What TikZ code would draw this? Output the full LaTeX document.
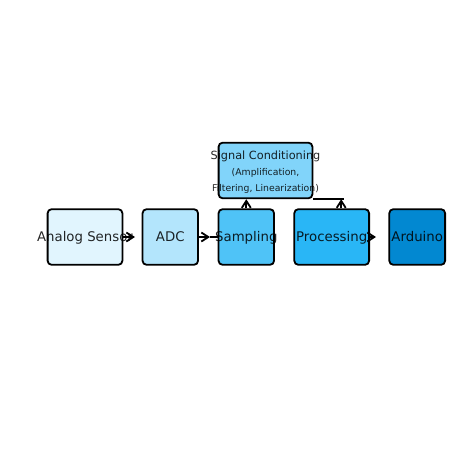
\documentclass[tikz,border=0pt]{standalone}
\usepackage{fontspec}
\setmainfont{DejaVu Sans}
\usetikzlibrary{calc, positioning, arrows.meta}

\definecolor{lb50}{HTML}{E1F5FE}
\definecolor{lb100}{HTML}{B3E5FC}
\definecolor{lb200}{HTML}{81D4FA}
\definecolor{lb300}{HTML}{4FC3F7}
\definecolor{lb400}{HTML}{29B6F6}
\definecolor{lb700}{HTML}{0288D1}

\begin{document}
\begin{tikzpicture}[x=1pt, y=-1pt, font=\fontsize{13.3}{16}\selectfont,
	box/.style={draw, line width=1.8pt, rounded corners=4pt, minimum height=55.6pt, inner sep=0pt},
	txt/.style={text opacity=0.85, inner sep=0pt},
	l_2/.style={line width=1.8pt},
	l_arr/.style={line width=1.8pt, -{Straight Barb[length=7pt,width=9pt]}}]
	\useasboundingbox (0,0) rectangle (474,474);
	% blocks of the chain
	\foreach \n/\x/\w/\c/\t in {sensor/85/74.8/lb50/Analog Sensor, adc/170.3/55.5/lb100/ADC, sampling/246.3/55.5/lb300/Sampling, processing/331.7/74.8/lb400/Processing, arduino/417.2/55.8/lb700/Arduino} {
		\node[box, fill=\c, minimum width=\w pt, label={[txt, text height=9.8pt, text depth=1.8pt]center:\t}] (\n) at (\x,237) {};
	};
	\node[box, fill=lb200, minimum width=93.8pt, label={[txt, align=center, yshift=-1.5pt]center:{\fontsize{11.3}{14}\selectfont Signal Conditioning\\[-0.5pt] \fontsize{9.3}{13.5}\selectfont (Amplification,\\ \fontsize{9.3}{13.5}\selectfont Filtering, Linearization)}}] (sigcond) at (265.5,170.5) {};
	% connectors
	\coordinate (s_tip) at (135,237);
	\coordinate (a_tip) at (210,237);
	\coordinate (p_tip) at (376,237);
	\coordinate (p_up) at ($(processing.north)+(9.5,0)$);
	\draw[l_arr] (sensor.east) -- (s_tip);
	\draw[l_arr] (adc.east) -- (a_tip);
	\draw[l_2] (a_tip) -- (sampling.west);
	\draw[l_arr] (processing.east) -- (p_tip);
	\draw[l_arr] (sampling.north) -- (sampling.north |- sigcond.south);
	\draw[l_arr] (p_up) -- (p_up |- sigcond.south);
	\draw[l_2] (sigcond.south east) -- ($(p_up |- sigcond.south)+(3,0)$);
\end{tikzpicture}
\end{document}
